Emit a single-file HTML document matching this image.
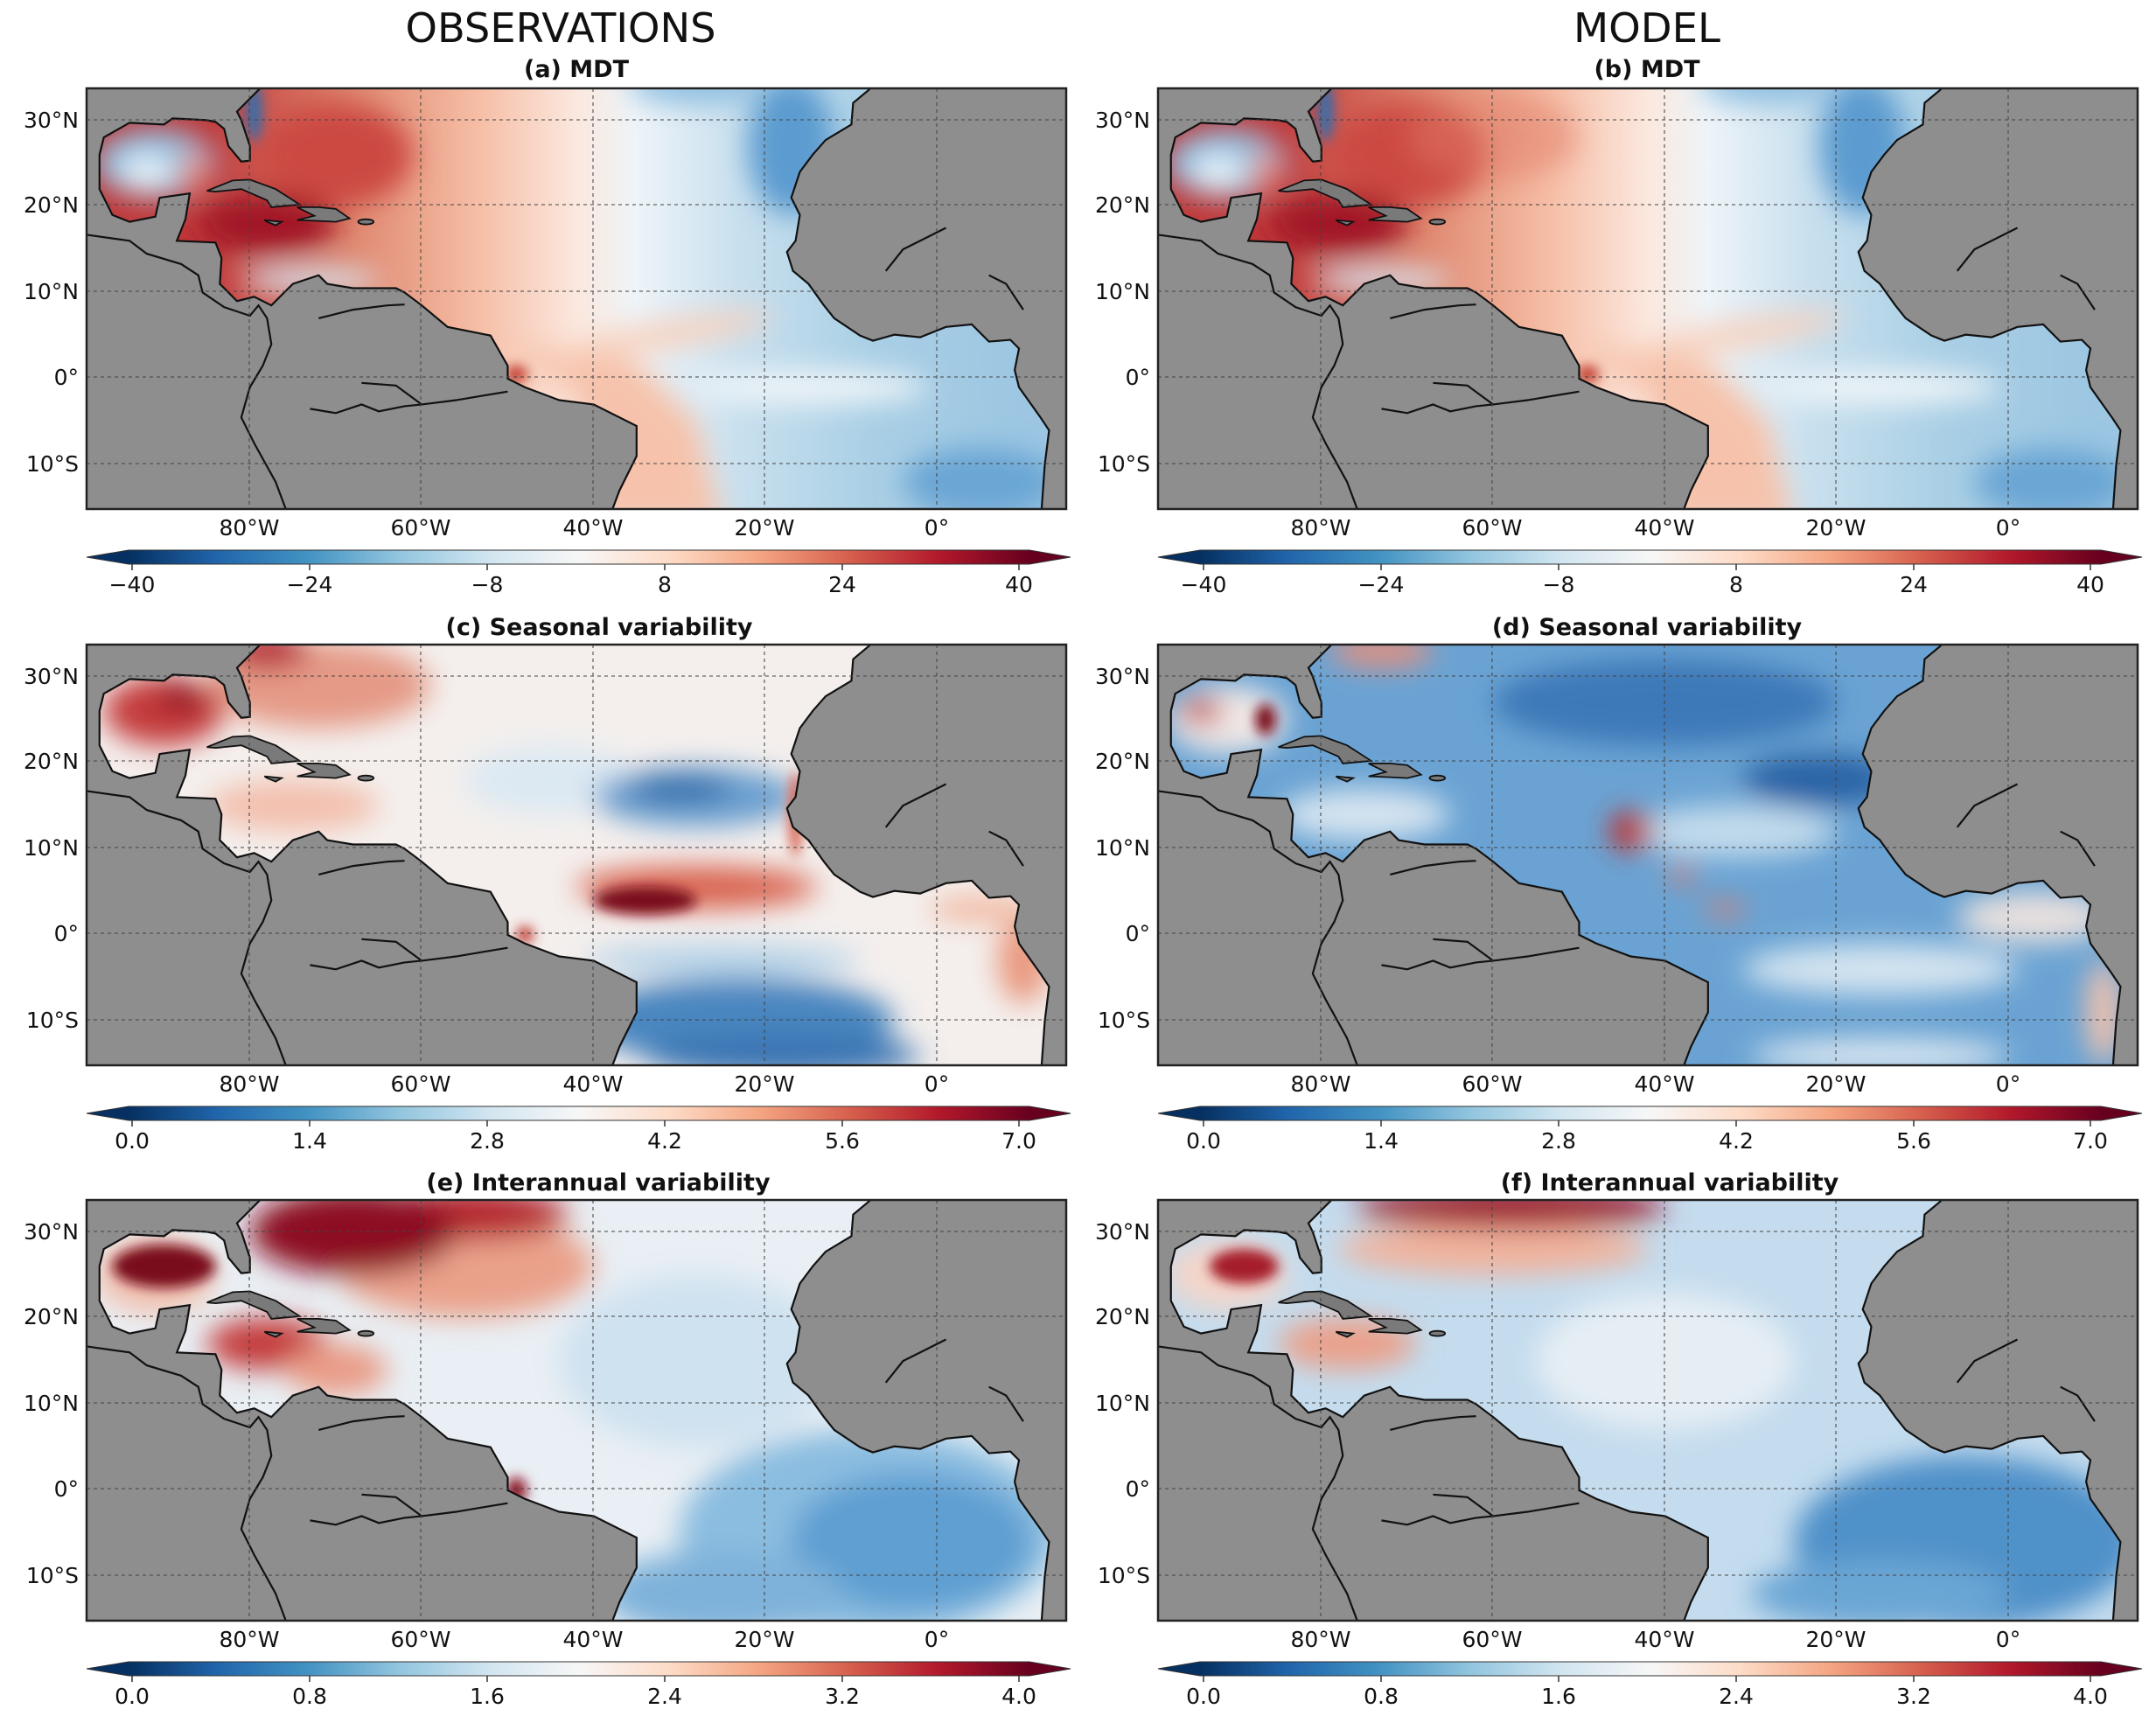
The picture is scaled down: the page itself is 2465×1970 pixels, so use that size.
<!DOCTYPE html>
<html><head><meta charset="utf-8"><style>
html,body{margin:0;padding:0;background:#fff}
svg{display:block}
text{font-family:"DejaVu Sans","Liberation Sans",sans-serif;fill:#111}
</style></head><body>
<svg width="2465" height="1970" viewBox="0 0 2465 1970" xmlns="http://www.w3.org/2000/svg">
<defs>
<filter id="bl" filterUnits="userSpaceOnUse" x="-130" y="-40" width="170" height="100"><feGaussianBlur stdDeviation="1.6"/></filter>
<filter id="bl2" filterUnits="userSpaceOnUse" x="-130" y="-40" width="170" height="100"><feGaussianBlur stdDeviation="0.7"/></filter>
<clipPath id="mapclip"><rect x="99" y="101" width="1120" height="481"/></clipPath>
<clipPath id="ocean" clipPathUnits="userSpaceOnUse"><path d="M-78,34.5 L-80,32.5 -81.5,31 -81,30 -80,27 -80,25.3 -81,25.2 -82.5,27 -83,29 -84,29.8 -85,30 -89,30.2 -90,29.5 -94,29.7 -97,28 -97.5,26 -97.5,22 -96,19 -94,18.2 -91,18.8 -90.5,21 -87,21.5 -87.5,18.5 -88.5,16 -84,15.8 -83.3,14 -83.5,11 -81.5,9 -79.5,9.5 -77.5,8.5 -76,10 -75,11 -72,12 -71,11 -68,10.5 -63,10.5 -62,10 -60,8.5 -57,6 -52,5 -50,1.5 -50,0 -48,-1 -44,-2.5 -40,-3 -35,-5.5 -35,-9 -37,-13 -38.5,-17 L12,-17 12.5,-10 13,-6 12,-4.5 9.5,-1 9,1 9.5,3.5 8.5,4.5 6,4.3 4,6.3 1,6 -2,4.8 -5,5.1 -7.5,4.4 -9,5 -12,7 -13.2,8.5 -15,11 -16.8,12.5 -17.5,14.7 -16.5,16 -16,19 -17,21 -16,24 -14.5,26 -13,27.7 -10,29.5 -9.8,32 -8,33.5 -6.5,35 Z"/></clipPath>
<g id="coasts" fill="none" stroke="#111" stroke-width="2.2">
<path vector-effect="non-scaling-stroke" d="M-78,34.5 L-80,32.5 -81.5,31 -81,30 -80,27 -80,25.3 -81,25.2 -82.5,27 -83,29 -84,29.8 -85,30 -89,30.2 -90,29.5 -94,29.7 -97,28 -97.5,26 -97.5,22 -96,19 -94,18.2 -91,18.8 -90.5,21 -87,21.5 -87.5,18.5 -88.5,16 -84,15.8 -83.3,14 -83.5,11 -81.5,9 -79.5,9.5 -77.5,8.5 -76,10 -75,11 -72,12 -71,11 -68,10.5 -63,10.5 -62,10 -60,8.5 -57,6 -52,5 -50,1.5 -50,0 -48,-1 -44,-2.5 -40,-3 -35,-5.5 -35,-9 -37,-13 -38.5,-17 M12,-17 L12.5,-10 13,-6 12,-4.5 9.5,-1 9,1 9.5,3.5 8.5,4.5 6,4.3 4,6.3 1,6 -2,4.8 -5,5.1 -7.5,4.4 -9,5 -12,7 -13.2,8.5 -15,11 -16.8,12.5 -17.5,14.7 -16.5,16 -16,19 -17,21 -16,24 -14.5,26 -13,27.7 -10,29.5 -9.8,32 -8,33.5 -6.5,35"/>
<polyline vector-effect="non-scaling-stroke" points="-99,16.7 -94,16 -92,14.5 -88,13.3 -86,12 -85.5,10 -83,8.3 -80,7.3 -79,8.5 -78,7 -77.5,4 -78.5,1.5 -80,-1 -81,-4.5 -79.5,-7.5 -77,-12 -75.5,-16"/>
<polyline vector-effect="non-scaling-stroke" points="-73,-3.5 -70,-4 -67,-3 -65,-3.8 -62,-3.2 -60,-3 -56,-2.5 -53,-2 -50,-1.5"/>
<polyline vector-effect="non-scaling-stroke" points="-67,-0.5 -63,-0.8 -60,-3"/>
<polyline vector-effect="non-scaling-stroke" points="-72,7 -68,8 -64,8.5 -62,8.6"/>
<polyline vector-effect="non-scaling-stroke" points="-6,12.5 -4,15 -1,16.5 1,17.5"/>
<polyline vector-effect="non-scaling-stroke" points="6,12 8,11 10,8"/>
</g>
<g id="islands" fill="#7a7a7a" stroke="#111" stroke-width="1.8">
<path vector-effect="non-scaling-stroke" d="M-85,21.8 L-82,23 -80,23.1 -77,22 -74.2,20.2 -77.5,19.9 -78,20.7 -81,22 -84,21.7Z"/>
<path vector-effect="non-scaling-stroke" d="M-74.5,19.9 L-72,19.9 -70,19.7 -68.4,18.6 -70,18.2 -72,18.3 -74.5,18.4 -72.5,18.9Z"/>
<path vector-effect="non-scaling-stroke" d="M-78.3,18.4 L-76.3,18.2 -77,17.8 -78,18.2Z"/>
<ellipse vector-effect="non-scaling-stroke" cx="-66.5" cy="18.2" rx="0.9" ry="0.3"/>
</g>
<linearGradient id="cb" x1="0" x2="1" y1="0" y2="0">
<stop offset="0" stop-color="#053061"/><stop offset="0.1" stop-color="#2166ac"/><stop offset="0.2" stop-color="#4393c3"/><stop offset="0.3" stop-color="#92c5de"/><stop offset="0.4" stop-color="#d1e5f0"/><stop offset="0.5" stop-color="#f7f7f7"/><stop offset="0.6" stop-color="#fddbc7"/><stop offset="0.7" stop-color="#f4a582"/><stop offset="0.8" stop-color="#d6604d"/><stop offset="0.9" stop-color="#b2182b"/><stop offset="1" stop-color="#67001f"/>
</linearGradient>
<linearGradient id="ga" x1="0" x2="1" y1="0" y2="0">
<stop offset="0.13" stop-color="#c0393a"/><stop offset="0.28" stop-color="#e08a72"/><stop offset="0.4" stop-color="#f6bda5"/><stop offset="0.5" stop-color="#fbe8de"/><stop offset="0.56" stop-color="#eef4f8"/><stop offset="0.66" stop-color="#c9e0ee"/><stop offset="0.8" stop-color="#a9cfe5"/><stop offset="0.95" stop-color="#9cc6e2"/>
</linearGradient>
<g id="fa">
<rect x="-100" y="-17" width="116" height="52" fill="url(#ga)"/>
<g filter="url(#bl)">
<ellipse cx="-91" cy="25" rx="7" ry="4" fill="#8fc0e0"/>
<ellipse cx="-92" cy="24" rx="3" ry="2" fill="#e6f0f7"/>
<ellipse cx="-86.5" cy="24" rx="1.5" ry="2.5" fill="#e7856f"/>
<ellipse cx="-70" cy="26" rx="9" ry="6" fill="#cc4a42"/>
<ellipse cx="-78" cy="18" rx="8" ry="3.5" fill="#a11227"/>
<ellipse cx="-73" cy="11.5" rx="8" ry="1.4" fill="#d8e8f3"/>
<path d="M-50,4 L-42,-2 -40,-17 -25,-17 -28,-5 -35,2Z" fill="#f6c2ab"/>
<ellipse cx="-32" cy="5" rx="13" ry="1.6" fill="#f8d2c0" transform="rotate(10 -32 5)"/>
<ellipse cx="-15" cy="-1" rx="14" ry="2" fill="#eef4f8"/>
<ellipse cx="5" cy="-12" rx="9" ry="4" fill="#6aa6d4"/>
<ellipse cx="-17" cy="27" rx="5" ry="8" fill="#5b9bd0"/>
<ellipse cx="-28" cy="34" rx="8" ry="2" fill="#8cbde0"/>
</g>
<g filter="url(#bl2)">
<ellipse cx="-79.5" cy="31" rx="0.9" ry="3.5" fill="#2f6fb0"/>
<ellipse cx="-49" cy="0.5" rx="1.3" ry="1" fill="#c0392b"/>
</g>
</g>
<g id="fc">
<rect x="-100" y="-17" width="116" height="52" fill="#f4efed"/>
<g filter="url(#bl)">
<ellipse cx="-45" cy="18" rx="10" ry="4" fill="#dce9f3"/>
<ellipse cx="-72" cy="29" rx="13" ry="5" fill="#e59a86"/>
<ellipse cx="-78" cy="33" rx="5" ry="2" fill="#b2182b"/>
<ellipse cx="-90" cy="26" rx="7" ry="4" fill="#c43a3a"/>
<ellipse cx="-88" cy="27.5" rx="2.5" ry="1.5" fill="#8b0a20"/>
<ellipse cx="-75" cy="15" rx="10" ry="3" fill="#f3c0ae"/>
<ellipse cx="-28" cy="16" rx="12" ry="3.5" fill="#6a9fcf"/>
<ellipse cx="-30" cy="17" rx="6" ry="1.5" fill="#2e6aa8"/>
<ellipse cx="-28" cy="5.5" rx="14" ry="2.5" fill="#d9644f"/>
<ellipse cx="-25" cy="-3" rx="16" ry="2" fill="#b8d4e8"/>
<ellipse cx="-23" cy="-10" rx="18" ry="5" fill="#4a86c0"/>
<ellipse cx="-18" cy="-14" rx="16" ry="2.5" fill="#3b74b2"/>
<ellipse cx="10" cy="-3" rx="3" ry="5" fill="#e99a80"/>
<ellipse cx="5" cy="3" rx="6" ry="1.5" fill="#f2b8a0"/>
</g>
<g filter="url(#bl2)">
<ellipse cx="-34" cy="4" rx="6" ry="1.6" fill="#7a0a1e"/>
<ellipse cx="-16.5" cy="14" rx="0.8" ry="5" fill="#d7614e"/>
<ellipse cx="-48" cy="0" rx="1" ry="1" fill="#c0392b"/>
</g>
</g>
<g id="fd">
<rect x="-100" y="-17" width="116" height="52" fill="#6aa3d3"/>
<g filter="url(#bl)">
<ellipse cx="-40" cy="27" rx="20" ry="5" fill="#3c78b8"/>
<ellipse cx="-22" cy="18" rx="9" ry="3" fill="#2a64a5"/>
<ellipse cx="-32" cy="12" rx="12" ry="3" fill="#c3dbec"/>
<ellipse cx="-15" cy="-4" rx="16" ry="3" fill="#d3e4f0"/>
<ellipse cx="-15" cy="-14" rx="15" ry="2" fill="#d8e6f0"/>
<ellipse cx="-91" cy="25" rx="7" ry="4" fill="#f0e8e6"/>
<ellipse cx="-94" cy="26" rx="2.5" ry="1.5" fill="#c0303a"/>
<ellipse cx="-75" cy="14" rx="10" ry="3" fill="#d5e4f0"/>
<ellipse cx="-73" cy="33" rx="6" ry="2" fill="#e09080"/>
<ellipse cx="-44" cy="12" rx="2.5" ry="2.3" fill="#c0302e"/>
<ellipse cx="-38" cy="7" rx="1.6" ry="1" fill="#e07a66"/>
<ellipse cx="-33" cy="3" rx="2.5" ry="0.8" fill="#e07a66"/>
<ellipse cx="3" cy="2" rx="9" ry="3" fill="#e8e0de"/>
<ellipse cx="11" cy="-9" rx="2" ry="6" fill="#f3c2ad"/>
</g>
<g filter="url(#bl2)">
<ellipse cx="-86.5" cy="25" rx="1.2" ry="1.8" fill="#7a0a1e"/>
</g>
</g>
<g id="fe">
<rect x="-100" y="-17" width="116" height="52" fill="#e9eff4"/>
<g filter="url(#bl)">
<ellipse cx="-28" cy="15" rx="16" ry="10" fill="#cfe2f0"/>
<ellipse cx="-8" cy="-5" rx="22" ry="12" fill="#8bbde0"/>
<ellipse cx="-3" cy="-6" rx="14" ry="8" fill="#5f9fd2"/>
<ellipse cx="-25" cy="-12" rx="14" ry="5" fill="#7fb2da"/>
<ellipse cx="-55" cy="26" rx="15" ry="6" fill="#eaa18a"/>
<ellipse cx="-55" cy="32" rx="12" ry="3" fill="#b6282f"/>
<ellipse cx="-68" cy="30" rx="12" ry="5" fill="#8d0c22"/>
<ellipse cx="-91" cy="25" rx="7" ry="4.5" fill="#f2c0ae"/>
<ellipse cx="-78" cy="17" rx="7" ry="3" fill="#c43a3a"/>
<ellipse cx="-70" cy="14" rx="6" ry="3" fill="#e99b86"/>
</g>
<g filter="url(#bl2)">
<ellipse cx="-90" cy="26" rx="6" ry="2.5" fill="#7a0a1e"/>
<ellipse cx="-49" cy="0" rx="1.2" ry="1.5" fill="#8b0a20"/>
</g>
</g>
<g id="ff">
<rect x="-100" y="-17" width="116" height="52" fill="#c4dcee"/>
<g filter="url(#bl)">
<ellipse cx="-40" cy="15" rx="15" ry="8" fill="#e6eef4"/>
<ellipse cx="-5" cy="-6" rx="20" ry="10" fill="#4f91c9"/>
<ellipse cx="-15" cy="-12" rx="15" ry="4" fill="#6aa6d4"/>
<ellipse cx="-60" cy="28" rx="18" ry="3" fill="#f0b29c"/>
<ellipse cx="-58" cy="32.8" rx="18" ry="2.3" fill="#9c1127"/>
<ellipse cx="-91" cy="25" rx="7" ry="4" fill="#f5d5c8"/>
<ellipse cx="-77" cy="17" rx="8" ry="3" fill="#eaa08a"/>
</g>
<g filter="url(#bl2)">
<ellipse cx="-89" cy="26" rx="4" ry="2" fill="#a51a2a"/>
</g>
</g>
<g id="frame">
<g stroke="#444" stroke-width="1.3" stroke-dasharray="4,4" opacity="0.8">
<line x1="285" y1="101" x2="285" y2="582"/><line x1="481" y1="101" x2="481" y2="582"/><line x1="678" y1="101" x2="678" y2="582"/><line x1="874" y1="101" x2="874" y2="582"/><line x1="1071" y1="101" x2="1071" y2="582"/>
<line x1="99" y1="137" x2="1219" y2="137"/><line x1="99" y1="234" x2="1219" y2="234"/><line x1="99" y1="333" x2="1219" y2="333"/><line x1="99" y1="431" x2="1219" y2="431"/><line x1="99" y1="530" x2="1219" y2="530"/>
</g>
<rect x="99" y="101" width="1120" height="481" fill="none" stroke="#222" stroke-width="2.5"/>
<g font-size="25" text-anchor="end">
<text x="90" y="146">30°N</text><text x="90" y="243">20°N</text><text x="90" y="342">10°N</text><text x="90" y="440">0°</text><text x="90" y="539">10°S</text>
</g>
<g font-size="25" text-anchor="middle">
<text x="285" y="612">80°W</text><text x="481" y="612">60°W</text><text x="678" y="612">40°W</text><text x="874" y="612">20°W</text><text x="1071" y="612">0°</text>
</g>
<rect x="147" y="629" width="1030" height="16" fill="url(#cb)"/>
<path d="M147,629 L99,637 147,645Z" fill="#053061"/>
<path d="M1177,629 L1224,637 1177,645Z" fill="#67001f"/>
<path d="M147,629 L99,637 147,645 M1177,629 L1224,637 1177,645 M147,629 H1177 M147,645 H1177" fill="none" stroke="#333" stroke-width="1"/>
<g stroke="#333" stroke-width="1.5"><line x1="151" y1="645" x2="151" y2="652"/><line x1="354" y1="645" x2="354" y2="652"/><line x1="557" y1="645" x2="557" y2="652"/><line x1="760" y1="645" x2="760" y2="652"/><line x1="963" y1="645" x2="963" y2="652"/><line x1="1165" y1="645" x2="1165" y2="652"/></g>
</g>
</defs>

<text x="641" y="48" font-size="46" text-anchor="middle" textLength="355" lengthAdjust="spacingAndGlyphs">OBSERVATIONS</text>
<text x="1883" y="48" font-size="46" text-anchor="middle" textLength="168" lengthAdjust="spacingAndGlyphs">MODEL</text>

<g transform="translate(0,0)">
<rect x="99" y="101" width="1120" height="481" fill="#8e8e8e"/>
<g clip-path="url(#mapclip)"><g transform="translate(1071.7,432.9) scale(9.825,-9.85)"><g clip-path="url(#ocean)"><use href="#fa"/></g><use href="#coasts"/><use href="#islands"/></g></g>
<use href="#frame"/>
<text x="659" y="88" font-size="27" font-weight="bold" text-anchor="middle">(a) MDT</text>
<g font-size="25" text-anchor="middle"><text x="151" y="677">−40</text><text x="354" y="677">−24</text><text x="557" y="677">−8</text><text x="760" y="677">8</text><text x="963" y="677">24</text><text x="1165" y="677">40</text></g>
</g>
<g transform="translate(1225,0)">
<rect x="99" y="101" width="1120" height="481" fill="#8e8e8e"/>
<g clip-path="url(#mapclip)"><g transform="translate(1071.7,432.9) scale(9.825,-9.85)"><g clip-path="url(#ocean)"><use href="#fa"/><ellipse cx="-60" cy="28" rx="10" ry="5" fill="#e07a66" opacity="0.5" filter="url(#bl)"/></g><use href="#coasts"/><use href="#islands"/></g></g>
<use href="#frame"/>
<text x="658" y="88" font-size="27" font-weight="bold" text-anchor="middle">(b) MDT</text>
<g font-size="25" text-anchor="middle"><text x="151" y="677">−40</text><text x="354" y="677">−24</text><text x="557" y="677">−8</text><text x="760" y="677">8</text><text x="963" y="677">24</text><text x="1165" y="677">40</text></g>
</g>
<g transform="translate(0,636)">
<rect x="99" y="101" width="1120" height="481" fill="#8e8e8e"/>
<g clip-path="url(#mapclip)"><g transform="translate(1071.7,432.9) scale(9.825,-9.85)"><g clip-path="url(#ocean)"><use href="#fc"/></g><use href="#coasts"/><use href="#islands"/></g></g>
<use href="#frame"/>
<text x="685" y="90" font-size="27" font-weight="bold" text-anchor="middle">(c) Seasonal variability</text>
<g font-size="25" text-anchor="middle"><text x="151" y="677">0.0</text><text x="354" y="677">1.4</text><text x="557" y="677">2.8</text><text x="760" y="677">4.2</text><text x="963" y="677">5.6</text><text x="1165" y="677">7.0</text></g>
</g>
<g transform="translate(1225,636)">
<rect x="99" y="101" width="1120" height="481" fill="#8e8e8e"/>
<g clip-path="url(#mapclip)"><g transform="translate(1071.7,432.9) scale(9.825,-9.85)"><g clip-path="url(#ocean)"><use href="#fd"/></g><use href="#coasts"/><use href="#islands"/></g></g>
<use href="#frame"/>
<text x="658" y="90" font-size="27" font-weight="bold" text-anchor="middle">(d) Seasonal variability</text>
<g font-size="25" text-anchor="middle"><text x="151" y="677">0.0</text><text x="354" y="677">1.4</text><text x="557" y="677">2.8</text><text x="760" y="677">4.2</text><text x="963" y="677">5.6</text><text x="1165" y="677">7.0</text></g>
</g>
<g transform="translate(0,1271)">
<rect x="99" y="101" width="1120" height="481" fill="#8e8e8e"/>
<g clip-path="url(#mapclip)"><g transform="translate(1071.7,432.9) scale(9.825,-9.85)"><g clip-path="url(#ocean)"><use href="#fe"/></g><use href="#coasts"/><use href="#islands"/></g></g>
<use href="#frame"/>
<text x="684" y="90" font-size="27" font-weight="bold" text-anchor="middle">(e) Interannual variability</text>
<g font-size="25" text-anchor="middle"><text x="151" y="677">0.0</text><text x="354" y="677">0.8</text><text x="557" y="677">1.6</text><text x="760" y="677">2.4</text><text x="963" y="677">3.2</text><text x="1165" y="677">4.0</text></g>
</g>
<g transform="translate(1225,1271)">
<rect x="99" y="101" width="1120" height="481" fill="#8e8e8e"/>
<g clip-path="url(#mapclip)"><g transform="translate(1071.7,432.9) scale(9.825,-9.85)"><g clip-path="url(#ocean)"><use href="#ff"/></g><use href="#coasts"/><use href="#islands"/></g></g>
<use href="#frame"/>
<text x="684" y="90" font-size="27" font-weight="bold" text-anchor="middle">(f) Interannual variability</text>
<g font-size="25" text-anchor="middle"><text x="151" y="677">0.0</text><text x="354" y="677">0.8</text><text x="557" y="677">1.6</text><text x="760" y="677">2.4</text><text x="963" y="677">3.2</text><text x="1165" y="677">4.0</text></g>
</g>
</svg>
</body></html>
